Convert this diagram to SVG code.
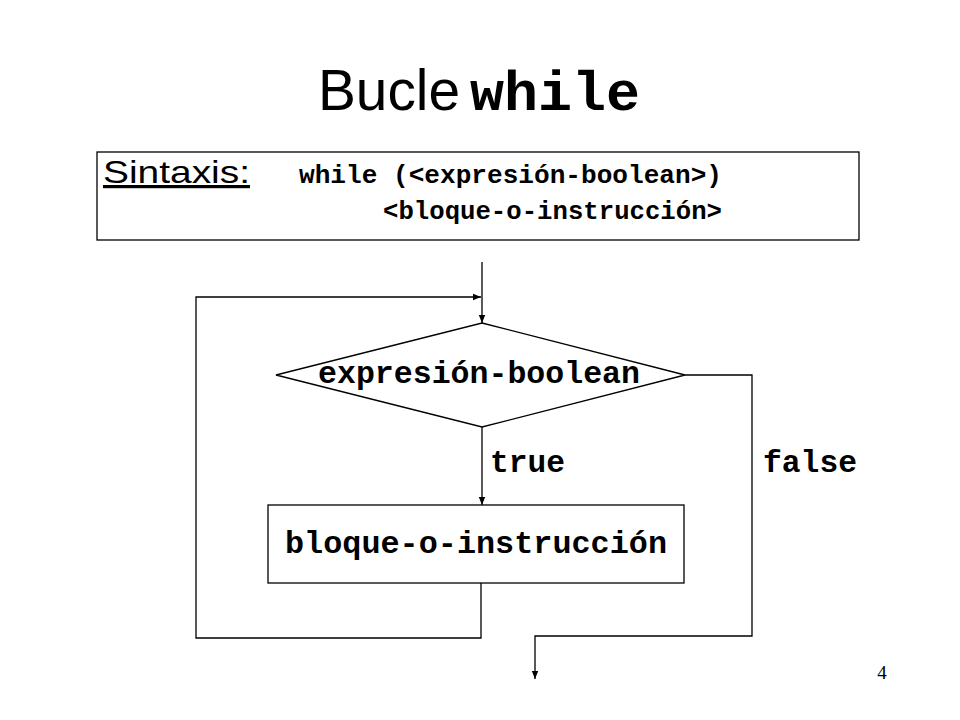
<svg xmlns="http://www.w3.org/2000/svg" width="960" height="720" viewBox="0 0 960 720">
<defs>
<marker id="arr" viewBox="0 0 10 10" refX="10" refY="5" markerWidth="8" markerHeight="8" markerUnits="userSpaceOnUse" orient="auto">
<path d="M0,1 L10,5 L0,9 Z" fill="#000"/>
</marker>
<style>
.ln{fill:none;stroke:#000;stroke-width:1.3}
.shape{fill:#fff;stroke:#000;stroke-width:1.3}
.mono{font-family:"Liberation Mono","Courier New",monospace;font-weight:bold;fill:#000}
.sans{font-family:"Liberation Sans Narrow","Liberation Sans",Arial,sans-serif;fill:#000}
</style>
</defs>
<rect width="960" height="720" fill="#fff"/>
<g id="title">
<text x="318" y="110" class="sans" font-size="57" textLength="142" lengthAdjust="spacingAndGlyphs">Bucle</text>
<text x="470" y="110" class="mono" font-size="56" textLength="170" lengthAdjust="spacingAndGlyphs">while</text>
</g>
<g id="syntax">
<rect x="97" y="152" width="762" height="88" class="shape"/>
<text x="103" y="183" class="sans" font-size="32" text-decoration="underline" textLength="147" lengthAdjust="spacingAndGlyphs">Sintaxis:</text>
<text x="299" y="183" class="mono" font-size="26" textLength="423" lengthAdjust="spacingAndGlyphs">while (&lt;expresión-boolean&gt;)</text>
<text x="383" y="219" class="mono" font-size="26" textLength="339" lengthAdjust="spacingAndGlyphs">&lt;bloque-o-instrucción&gt;</text>
</g>
<g id="connectors">
<line x1="482" y1="262" x2="482" y2="323" class="ln" marker-end="url(#arr)"/>
<polyline points="481,583 481,638 196,638 196,297 481,297" class="ln" marker-end="url(#arr)"/>
<line x1="482" y1="427" x2="482" y2="505" class="ln" marker-end="url(#arr)"/>
<polyline points="685,375 752,375 752,636 535,636 535,679" class="ln" marker-end="url(#arr)"/>
<text x="490" y="472" class="mono" font-size="31" textLength="75" lengthAdjust="spacingAndGlyphs">true</text>
<text x="763" y="472" class="mono" font-size="31" textLength="94" lengthAdjust="spacingAndGlyphs">false</text>
</g>
<g id="cond">
<polygon points="482,323 685,375 482,427 276,375" class="shape"/>
<text x="318" y="383" class="mono" font-size="31" textLength="322" lengthAdjust="spacingAndGlyphs">expresión-boolean</text>
</g>
<g id="block">
<rect x="268" y="505" width="416" height="78" class="shape"/>
<text x="285" y="553" class="mono" font-size="31" textLength="382" lengthAdjust="spacingAndGlyphs">bloque-o-instrucción</text>
</g>
<g id="page">
<text x="882" y="679" font-family="Liberation Serif,Times New Roman,serif" font-size="19" text-anchor="middle" fill="#000">4</text>
</g>
</svg>
